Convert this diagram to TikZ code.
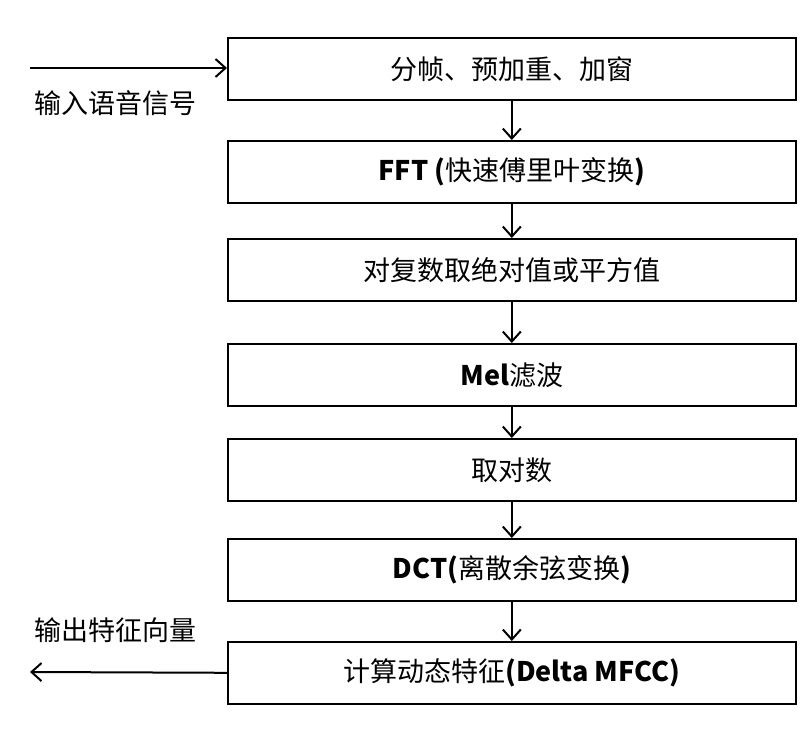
\documentclass[tikz,border=0pt]{standalone}
\usepackage{fontspec}
\setmainfont{Noto Sans CJK SC}
\usetikzlibrary{arrows.meta}
\begin{document}
\begin{tikzpicture}[x=1pt,y=-1pt,
  box/.style={draw,line width=1.6pt,minimum width=568pt,minimum height=62pt,anchor=north west,inner sep=0pt,font=\fontsize{27}{30}\selectfont},
  lbl/.style={font=\fontsize{27}{30}\selectfont,inner sep=0pt},
  arr/.style={line width=2pt,-{Straight Barb[length=10pt,width=18pt,line width=2pt]}}]
\useasboundingbox (0,0) rectangle (804,738);
\node[box] (b1) at (227,37) {分帧、预加重、加窗};
\node[box] (b2) at (227,140) {\textbf{FFT (}快速傅里叶变换\textbf{)}};
\node[box] (b3) at (227,238) {对复数取绝对值或平方值};
\node[box] (b4) at (227,343) {\textbf{Mel}滤波};
\node[box] (b5) at (227,438) {取对数};
\node[box] (b6) at (227,538) {\textbf{DCT(}离散余弦变换\textbf{)}};
\node[box] (b7) at (227,641) {计算动态特征\textbf{(Delta MFCC)}};
\foreach \a/\b in {b1/b2,b2/b3,b3/b4,b4/b5,b5/b6,b6/b7}
  \draw[arr] (\a.south) -- (\b.north);
\coordinate (in) at (30,68);
\draw[arr] (in) -- (b1.west |- in);
\node[lbl,anchor=west] (tin) at (34,103) {输入语音信号};
\coordinate (out) at (30,672);
\draw[arr] (b7.west) -- (out);
\node[lbl,anchor=west] (tout) at (34,630) {输出特征向量};
\end{tikzpicture}
\end{document}
